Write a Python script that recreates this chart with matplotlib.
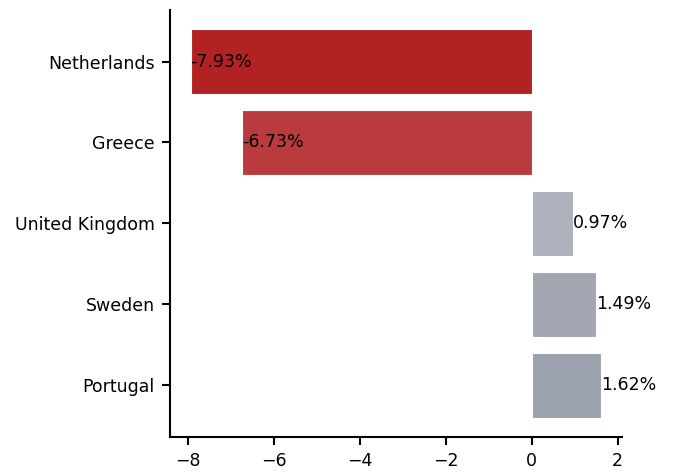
import matplotlib
matplotlib.use("Agg")
import matplotlib.pyplot as plt

countries = ["Netherlands", "Greece", "United Kingdom", "Sweden", "Portugal"]
changes = [-7.93, -6.73, 0.97, 1.49, 1.62]
bar_colors = ["#b22222", "#b93b3d", "#adb1bc", "#a1a6b1", "#9ca2ad"]

fig = plt.figure(figsize=(6.73, 4.72), dpi=100)
ax = fig.add_axes([0.2526, 0.0742, 0.6714, 0.905])

y = list(range(len(countries)))
ax.barh(y, changes, height=0.8, color=bar_colors, edgecolor="white", linewidth=0.8)

for yi, v in zip(y, changes):
    ax.text(v, yi, f"{v:.2f}%", ha="left", va="center", fontsize=12.5)

ax.set_yticks(y)
ax.set_yticklabels(countries)
ax.invert_yaxis()

ax.spines["top"].set_visible(False)
ax.spines["right"].set_visible(False)
for s in ["left", "bottom"]:
    ax.spines[s].set_linewidth(1.5)
ax.tick_params(labelsize=12.5, length=6, width=1.5, pad=5)

fig.savefig("out.png", dpi=100)
